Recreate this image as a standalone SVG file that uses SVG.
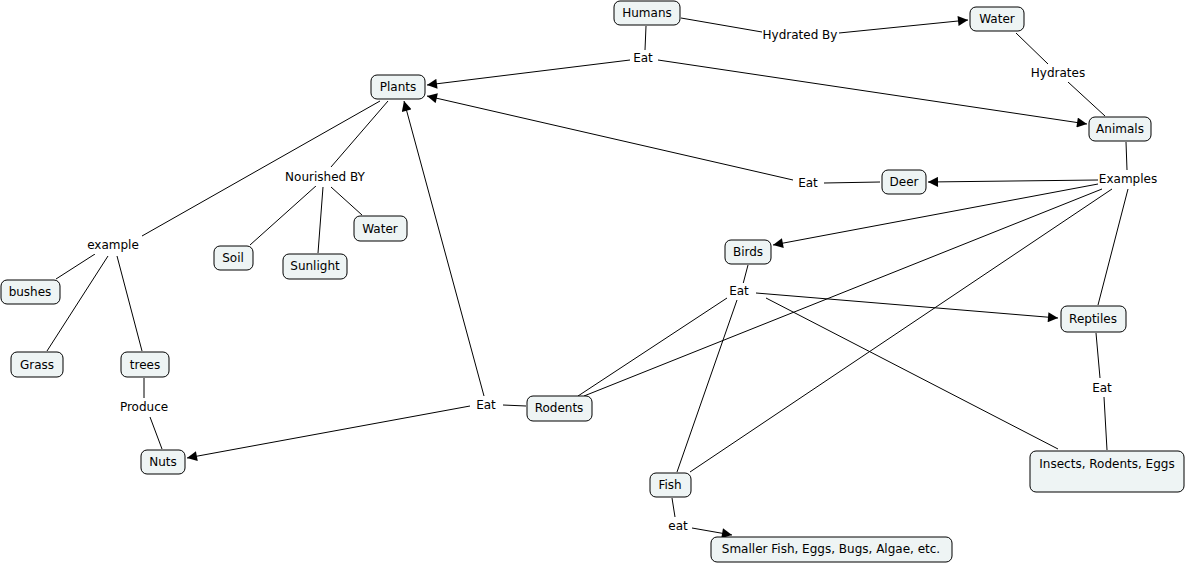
<svg xmlns="http://www.w3.org/2000/svg" width="1186" height="566" viewBox="0 0 1186 566">
<style>
.n rect{fill:#eef4f4;stroke:#000;stroke-width:1}
text{font-family:"DejaVu Sans",Verdana,sans-serif;font-size:12px;fill:#000;text-anchor:middle;dominant-baseline:central}
.c line{stroke:#000;stroke-width:1}
.a{marker-end:url(#ar)}
</style>
<defs><marker id="ar" viewBox="0 0 10 10" refX="10" refY="5" markerWidth="12" markerHeight="10" markerUnits="userSpaceOnUse" orient="auto"><path d="M0,0L10,5L0,10z"/></marker></defs>
<rect width="1186" height="566" fill="#fff"/>
<g class="c">
<line x1="681" y1="18" x2="762" y2="32"/><line x1="839" y1="33" x2="968" y2="20" class="a"/>
<line x1="646" y1="26" x2="645" y2="50"/>
<line x1="630" y1="60" x2="427" y2="85" class="a"/>
<line x1="658" y1="60" x2="1087" y2="124" class="a"/>
<line x1="1016" y1="33" x2="1048" y2="64"/><line x1="1068" y1="82" x2="1105" y2="116"/>
<line x1="1126" y1="142" x2="1127" y2="170"/>
<line x1="1098" y1="180" x2="928" y2="182" class="a"/>
<line x1="1098" y1="184" x2="773" y2="245" class="a"/>
<line x1="1102" y1="189" x2="584" y2="396"/>
<line x1="1112" y1="189" x2="690" y2="472"/>
<line x1="1128" y1="189" x2="1098" y2="305"/>
<line x1="880" y1="182" x2="824" y2="183"/>
<line x1="793" y1="180" x2="427" y2="96" class="a"/>
<line x1="388" y1="101" x2="331" y2="167"/>
<line x1="317" y1="185" x2="250" y2="245"/><line x1="323" y1="187" x2="318" y2="253"/><line x1="331" y1="187" x2="362" y2="215"/>
<line x1="380" y1="101" x2="142" y2="236"/>
<line x1="95" y1="254" x2="56" y2="279"/><line x1="108" y1="256" x2="47" y2="351"/><line x1="117" y1="256" x2="142" y2="351"/>
<line x1="144" y1="378" x2="144" y2="398"/><line x1="150" y1="417" x2="162" y2="449"/>
<line x1="526" y1="406" x2="503" y2="405"/>
<line x1="470" y1="406" x2="187" y2="458" class="a"/>
<line x1="484" y1="396" x2="404" y2="101" class="a"/>
<line x1="748" y1="265" x2="743" y2="284"/>
<line x1="756" y1="293" x2="1058" y2="318" class="a"/>
<line x1="727" y1="298" x2="578" y2="396"/>
<line x1="737" y1="300" x2="677" y2="472"/>
<line x1="766" y1="298" x2="1058" y2="449"/>
<line x1="1096" y1="333" x2="1100" y2="378"/><line x1="1104" y1="397" x2="1107" y2="450"/>
<line x1="672" y1="498" x2="675" y2="517"/><line x1="692" y1="528" x2="732" y2="535" class="a"/>
</g>
<g fill="#fff">
<rect x="762" y="26" width="77" height="17"/><rect x="630" y="50" width="28" height="17"/><rect x="1030" y="65" width="56" height="17"/>
<rect x="1098" y="171" width="62" height="17"/><rect x="796" y="175" width="26" height="17"/><rect x="284" y="169" width="83" height="17"/>
<rect x="86" y="237" width="56" height="17"/><rect x="118" y="399" width="52" height="17"/><rect x="473" y="397" width="26" height="17"/>
<rect x="727" y="283" width="26" height="17"/><rect x="1090" y="380" width="24" height="17"/><rect x="666" y="518" width="24" height="17"/>
</g>
<text x="800" y="35">Hydrated By</text><text x="643" y="58">Eat</text><text x="1058" y="73">Hydrates</text>
<text x="1128" y="179">Examples</text><text x="808" y="183">Eat</text><text x="325" y="177">Nourished BY</text>
<text x="113" y="245">example</text><text x="144" y="407">Produce</text><text x="486" y="405">Eat</text>
<text x="739" y="291">Eat</text><text x="1102" y="388">Eat</text><text x="678" y="526">eat</text>
<g id="humans" class="n"><rect x="614" y="1" width="66" height="24" rx="6"/><text x="647" y="13">Humans</text></g>
<g id="water1" class="n"><rect x="970" y="7" width="54" height="24" rx="6"/><text x="997" y="19">Water</text></g>
<g id="plants" class="n"><rect x="371" y="75" width="54" height="24" rx="6"/><text x="398" y="87">Plants</text></g>
<g id="animals" class="n"><rect x="1089" y="117" width="62" height="24" rx="6"/><text x="1120" y="129">Animals</text></g>
<g id="deer" class="n"><rect x="882" y="170" width="44" height="24" rx="6"/><text x="904" y="182">Deer</text></g>
<g id="birds" class="n"><rect x="725" y="240" width="46" height="24" rx="6"/><text x="748" y="252">Birds</text></g>
<g id="soil" class="n"><rect x="214" y="246" width="39" height="24" rx="6"/><text x="233" y="258">Soil</text></g>
<g id="sunlight" class="n"><rect x="283" y="254" width="64" height="25" rx="6"/><text x="315" y="266">Sunlight</text></g>
<g id="water2" class="n"><rect x="354" y="216" width="53" height="25" rx="6"/><text x="380" y="229">Water</text></g>
<g id="bushes" class="n"><rect x="1" y="280" width="59" height="24" rx="6"/><text x="30" y="292">bushes</text></g>
<g id="grass" class="n"><rect x="11" y="352" width="52" height="25" rx="6"/><text x="37" y="365">Grass</text></g>
<g id="trees" class="n"><rect x="121" y="352" width="48" height="25" rx="6"/><text x="145" y="365">trees</text></g>
<g id="nuts" class="n"><rect x="141" y="450" width="44" height="24" rx="6"/><text x="163" y="462">Nuts</text></g>
<g id="rodents" class="n"><rect x="527" y="396" width="65" height="25" rx="6"/><text x="559" y="408">Rodents</text></g>
<g id="reptiles" class="n"><rect x="1061" y="306" width="65" height="26" rx="6"/><text x="1093" y="319">Reptiles</text></g>
<g id="fish" class="n"><rect x="650" y="473" width="41" height="24" rx="6"/><text x="670" y="485">Fish</text></g>
<g id="insects" class="n"><rect x="1030" y="451" width="154" height="41" rx="6"/><text x="1107" y="464">Insects, Rodents, Eggs</text></g>
<g id="smaller" class="n"><rect x="711" y="537" width="241" height="25" rx="6"/><text x="831" y="549">Smaller Fish, Eggs, Bugs, Algae, etc.</text></g>
</svg>
